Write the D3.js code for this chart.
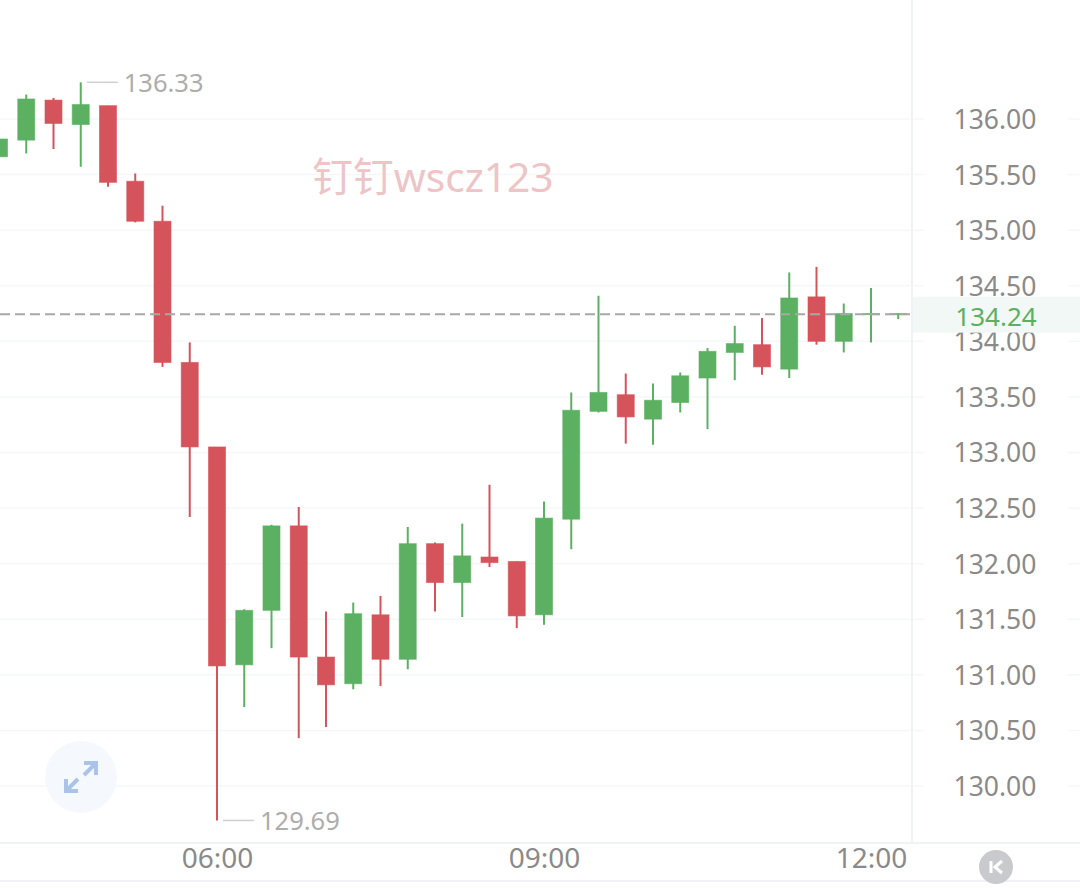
<!DOCTYPE html>
<html>
<head>
<meta charset="utf-8">
<script src="https://cdn.jsdelivr.net/npm/d3@7"></script>
<style>
body { margin: 0; background: #fff; }
svg { display: block; }
text { font-family: "Noto Sans", "Noto Sans CJK SC", sans-serif; }
</style>
</head>
<body>
<svg id="chart" width="1080" height="888"></svg>
<script>
// 15 minute candles, 04:00 to 12:15
const times = ["04:00","04:15","04:30","04:45","05:00","05:15","05:30","05:45","06:00","06:15","06:30","06:45",
    "07:00","07:15","07:30","07:45","08:00","08:15","08:30","08:45","09:00","09:15","09:30","09:45",
    "10:00","10:15","10:30","10:45","11:00","11:15","11:30","11:45","12:00","12:15"];
const opens = [135.66,135.81,136.17,135.95,136.12,135.44,135.08,133.81,133.05,131.09,131.58,132.34,
    131.16,130.92,131.54,131.14,132.18,131.83,132.06,132.02,131.54,132.40,133.37,133.52,
    133.30,133.45,133.67,133.90,133.97,133.75,134.40,134.00,134.24,134.24];
const closes = [135.82,136.18,135.96,136.13,135.43,135.08,133.81,133.05,131.08,131.58,132.34,131.16,
    130.91,131.55,131.14,132.18,131.83,132.07,132.01,131.53,132.41,133.38,133.54,133.32,
    133.47,133.69,133.91,133.98,133.77,134.39,134.00,134.25,134.25,134.25];
const highs = [135.82,136.22,136.19,136.33,136.12,135.51,135.22,133.99,133.05,131.59,132.35,132.51,
    131.57,131.65,131.71,132.33,132.19,132.36,132.71,132.02,132.56,133.54,134.41,133.71,
    133.62,133.72,133.94,134.14,134.21,134.62,134.67,134.34,134.48,134.25];
const lows = [135.66,135.69,135.73,135.57,135.39,135.07,133.77,132.42,129.69,130.71,131.24,130.43,
    130.53,130.87,130.90,131.05,131.57,131.52,131.97,131.42,131.45,132.13,133.36,133.08,
    133.07,133.36,133.21,133.65,133.70,133.67,133.97,133.90,133.99,134.20];

const priceTicks = [130,130.5,131,131.5,132,132.5,133,133.5,134,134.5,135,135.5,136];
const timeTicks = ["06:00","09:00","12:00"];
const lastPrice = 134.24;
const maxPrice = 136.33;
const minPrice = 129.69;
const watermark = "钉钉wscz123";

const red = "#d5535a", green = "#5bb062";
const plotRight = 912, plotBottom = 843;

const parseTime = d3.timeParse("%H:%M");
const x = d3.scaleTime()
    .domain([parseTime("06:00"), parseTime("12:00")])
    .range([217, 871]);
const y = d3.scaleLinear()
    .domain([130, 136])
    .range([786, 119]);

const svg = d3.select("#chart");

// grid
const grid = svg.append("g").attr("stroke", "#f5f7fb").attr("stroke-width", 1.5);
priceTicks.forEach(function(p) {
    grid.append("line").attr("x1", 0).attr("x2", 924).attr("y1", y(p)).attr("y2", y(p));
    grid.append("line").attr("x1", 1068).attr("x2", 1080).attr("y1", y(p)).attr("y2", y(p));
});

svg.append("line").attr("x1", plotRight).attr("x2", plotRight).attr("y1", 0).attr("y2", plotBottom)
    .attr("stroke", "#f1f2f5").attr("stroke-width", 2);
svg.append("line").attr("x1", 0).attr("x2", 1080).attr("y1", plotBottom).attr("y2", plotBottom)
    .attr("stroke", "#f1f2f5").attr("stroke-width", 2);
svg.append("line").attr("x1", 0).attr("x2", 1080).attr("y1", 881).attr("y2", 881)
    .attr("stroke", "#f1f2f5").attr("stroke-width", 2);

// watermark
svg.append("text").attr("x", 433).attr("y", 176)
    .attr("text-anchor", "middle").attr("dominant-baseline", "central")
    .attr("font-size", 40.7).attr("fill", "#edc5c7")
    .text(watermark);

// candles
const candles = svg.append("g").selectAll("g")
    .data(times)
    .enter()
    .append("g")
    .attr("transform", function(d) { return `translate(${x(parseTime(d))},0)`; });

function candleColor(i) { return closes[i] >= opens[i] ? green : red; }

candles.append("line")
    .attr("y1", function(d, i) { return y(highs[i]); })
    .attr("y2", function(d, i) { return y(lows[i]); })
    .attr("stroke", function(d, i) { return candleColor(i); })
    .attr("stroke-width", 2);

candles.append("rect")
    .attr("x", -8.5)
    .attr("width", 17)
    .attr("y", function(d, i) { return y(Math.max(opens[i], closes[i])); })
    .attr("height", function(d, i) { return Math.abs(y(opens[i]) - y(closes[i])); })
    .attr("fill", function(d, i) { return candleColor(i); })
    .attr("stroke", function(d, i) { return candleColor(i); })
    .attr("stroke-opacity", 0.6);

// max and min marks
function extremeMark(price, time, text) {
    const x0 = x(parseTime(time));
    svg.append("line").attr("x1", x0 + 6).attr("x2", x0 + 37).attr("y1", y(price)).attr("y2", y(price))
        .attr("stroke", "#cfcfcf").attr("stroke-width", 1.5);
    svg.append("text").attr("x", x0 + 43).attr("y", y(price))
        .attr("dominant-baseline", "central")
        .attr("font-size", 25.5).attr("fill", "#adadad").text(text);
}
extremeMark(maxPrice, "04:45", maxPrice.toFixed(2));
extremeMark(minPrice, "06:00", minPrice.toFixed(2));

// price axis
const yAxis = d3.axisRight(y).tickValues(priceTicks).tickSize(0).tickPadding(0)
    .tickFormat(function(d) { return d.toFixed(2); });
const yAxisG = svg.append("g").attr("transform", "translate(995,1)").call(yAxis);
yAxisG.select(".domain").remove();
yAxisG.selectAll("text")
    .attr("text-anchor", "middle")
    .style("font-family", '"Noto Sans", sans-serif')
    .style("font-size", "26.5px")
    .attr("fill", "#8a8a8a");

// last price
svg.append("rect").attr("x", plotRight + 1).attr("width", 1080 - plotRight - 1)
    .attr("y", y(lastPrice) - 18).attr("height", 36).attr("fill", "#f2f8f5");
svg.append("line").attr("x1", 0).attr("x2", plotRight).attr("y1", y(lastPrice) - 0.5).attr("y2", y(lastPrice) - 0.5)
    .attr("stroke", "#a8a8a8").attr("stroke-width", 2).attr("stroke-dasharray", "10,5");
svg.append("text").attr("x", 996).attr("y", y(lastPrice) + 1)
    .attr("text-anchor", "middle").attr("dominant-baseline", "central")
    .attr("font-size", 26).attr("fill", "#5bb062").text(lastPrice.toFixed(2));

// time axis
const xAxis = d3.axisBottom(x)
    .tickValues(timeTicks.map(parseTime)).tickSize(0).tickPadding(0)
    .tickFormat(d3.timeFormat("%H:%M"));
const xAxisG = svg.append("g").attr("transform", "translate(0,848)").call(xAxis);
xAxisG.select(".domain").remove();
xAxisG.selectAll("text")
    .style("font-family", '"Noto Sans", sans-serif')
    .style("font-size", "28px")
    .attr("fill", "#8a8a8a");

// expand button
const expand = svg.append("g").attr("transform", "translate(81,777)");
expand.append("circle").attr("r", 36).attr("fill", "#f5f8fd");
expand.append("path")
    .attr("d", "M-15,14 L-3,2 M-15,2 L-15,14 L-3,14 M15,-14 L3,-2 M3,-14 L15,-14 L15,-2")
    .attr("fill", "none").attr("stroke", "#a9c3ea").attr("stroke-width", 4);

// k button
const kBtn = svg.append("g").attr("transform", "translate(996,867)");
kBtn.append("circle").attr("r", 17).attr("fill", "#c9cacd");
kBtn.append("path")
    .attr("d", "M-5,-6 L-5,6 M6,-6 L-1,0 L6,6")
    .attr("fill", "none").attr("stroke", "#fff").attr("stroke-width", 3);
</script>
</body>
</html>
